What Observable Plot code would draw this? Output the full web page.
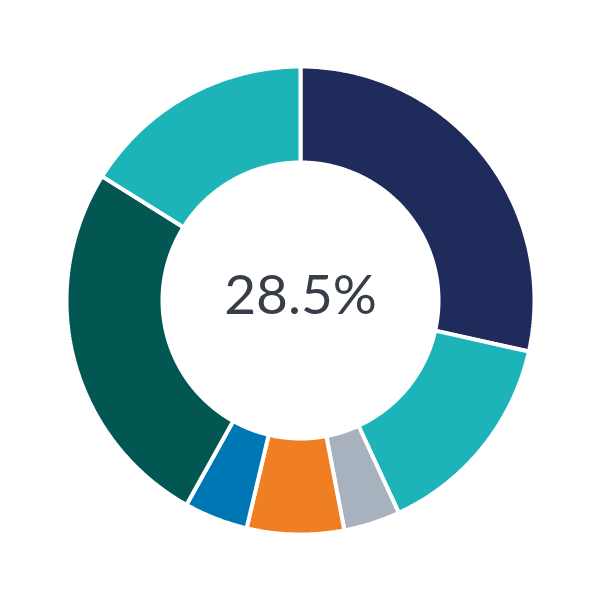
<!DOCTYPE html>
<html>
<head>
<meta charset="utf-8">
<script src="https://cdn.jsdelivr.net/npm/d3@7"></script>
<script src="https://cdn.jsdelivr.net/npm/@observablehq/plot@0.6"></script>
<style>
  html, body { margin: 0; padding: 0; background: #ffffff; }
  #chart { width: 600px; height: 600px; }
</style>
</head>
<body>
<div id="chart"></div>
<script>
const categories = ["Segment 1", "Segment 2", "Segment 3", "Segment 4", "Segment 5", "Segment 6", "Segment 7"];
const values = [28.5, 14.6, 3.9, 6.7, 4.4, 25.8, 16.1];
const colors = ["#1e2b5b", "#1cb4b8", "#a8b2bf", "#f07f23", "#0077b5", "#035753", "#1cb4b8"];
const centerLabel = "28.5%";

const outerR = 234, innerR = 138;
const pie = d3.pie().sort(null).value(d => d.value)(categories.map((c, i) => ({ category: c, value: values[i] })));

const pts = [];
for (const arc of pie) {
  const a0 = arc.startAngle, a1 = arc.endAngle;
  const n = Math.max(2, Math.ceil((a1 - a0) / 0.01));
  const ring = [];
  for (let k = 0; k <= n; k++) {
    const a = a0 + (a1 - a0) * k / n;
    ring.push([outerR * Math.sin(a), outerR * Math.cos(a)]);
  }
  for (let k = n; k >= 0; k--) {
    const a = a0 + (a1 - a0) * k / n;
    ring.push([innerR * Math.sin(a), innerR * Math.cos(a)]);
  }
  ring.push(ring[0]);
  for (const [x, y] of ring) pts.push({ category: arc.data.category, x, y });
}

const chart = Plot.plot({
  width: 600,
  height: 600,
  margin: 0,
  x: { domain: [-300, 300], axis: null },
  y: { domain: [-300, 300], axis: null },
  color: { domain: categories, range: colors },
  style: { background: "#ffffff" },
  marks: [
    Plot.line(pts, {
      x: "x", y: "y", z: "category",
      fill: "category",
      stroke: "#ffffff", strokeWidth: 4, strokeLinejoin: "miter"
    }),
    Plot.text([centerLabel], {
      text: d => d,
      frameAnchor: "middle",
      dy: -4,
      fontSize: 55,
      fontFamily: "Lato, sans-serif",
      fontWeight: 400,
      fill: "#383d4a"
    })
  ]
});
document.getElementById("chart").appendChild(chart);
</script>
</body>
</html>
